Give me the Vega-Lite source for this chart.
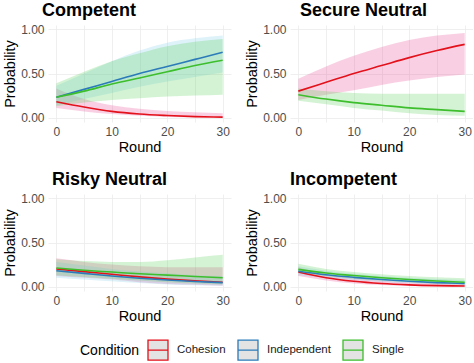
{
  "$schema": "https://vega.github.io/schema/vega-lite/v6.json",
  "padding": {"left": 2, "top": 2, "right": 0, "bottom": 0},
  "config": {
    "font": "Liberation Sans",
    "view": {"stroke": null},
    "axis": {
      "domain": false, "ticks": false,
      "gridColor": "#EBEBEB", "gridWidth": 0.8,
      "labelColor": "#4D4D4D", "labelFontSize": 12, "labelPadding": 4,
      "labelFlush": false, "labelOverlap": false,
      "titleFontSize": 14.5, "titleFontWeight": "normal", "titleColor": "#000000", "titlePadding": 3
    },
    "title": {"fontSize": 18, "fontWeight": "bold", "color": "#000000", "anchor": "start", "frame": "group", "baseline": "alphabetic", "offset": 3}
  },
  "data": {"values": [
    {"panel": "Competent", "cond": "Cohesion", "round": 0, "p": 0.18, "lo": 0.11, "hi": 0.33},
    {"panel": "Competent", "cond": "Cohesion", "round": 5, "p": 0.12, "lo": 0.07, "hi": 0.21},
    {"panel": "Competent", "cond": "Cohesion", "round": 10, "p": 0.07, "lo": 0.04, "hi": 0.14},
    {"panel": "Competent", "cond": "Cohesion", "round": 15, "p": 0.04, "lo": 0.02, "hi": 0.10},
    {"panel": "Competent", "cond": "Cohesion", "round": 20, "p": 0.023, "lo": 0.008, "hi": 0.075},
    {"panel": "Competent", "cond": "Cohesion", "round": 25, "p": 0.011, "lo": 0.003, "hi": 0.06},
    {"panel": "Competent", "cond": "Cohesion", "round": 30, "p": 0.005, "lo": 0.001, "hi": 0.05},
    {"panel": "Competent", "cond": "Independent", "round": 0, "p": 0.23, "lo": 0.14, "hi": 0.36},
    {"panel": "Competent", "cond": "Independent", "round": 5, "p": 0.32, "lo": 0.21, "hi": 0.50},
    {"panel": "Competent", "cond": "Independent", "round": 10, "p": 0.41, "lo": 0.28, "hi": 0.64},
    {"panel": "Competent", "cond": "Independent", "round": 15, "p": 0.50, "lo": 0.35, "hi": 0.76},
    {"panel": "Competent", "cond": "Independent", "round": 20, "p": 0.58, "lo": 0.41, "hi": 0.85},
    {"panel": "Competent", "cond": "Independent", "round": 25, "p": 0.66, "lo": 0.46, "hi": 0.90},
    {"panel": "Competent", "cond": "Independent", "round": 30, "p": 0.74, "lo": 0.51, "hi": 0.93},
    {"panel": "Competent", "cond": "Single", "round": 0, "p": 0.23, "lo": 0.13, "hi": 0.39},
    {"panel": "Competent", "cond": "Single", "round": 5, "p": 0.30, "lo": 0.17, "hi": 0.52},
    {"panel": "Competent", "cond": "Single", "round": 10, "p": 0.38, "lo": 0.20, "hi": 0.64},
    {"panel": "Competent", "cond": "Single", "round": 15, "p": 0.45, "lo": 0.22, "hi": 0.73},
    {"panel": "Competent", "cond": "Single", "round": 20, "p": 0.52, "lo": 0.24, "hi": 0.81},
    {"panel": "Competent", "cond": "Single", "round": 25, "p": 0.59, "lo": 0.25, "hi": 0.86},
    {"panel": "Competent", "cond": "Single", "round": 30, "p": 0.65, "lo": 0.26, "hi": 0.89},

    {"panel": "Secure Neutral", "cond": "Cohesion", "round": 0, "p": 0.30, "lo": 0.20, "hi": 0.44},
    {"panel": "Secure Neutral", "cond": "Cohesion", "round": 5, "p": 0.40, "lo": 0.26, "hi": 0.58},
    {"panel": "Secure Neutral", "cond": "Cohesion", "round": 10, "p": 0.50, "lo": 0.31, "hi": 0.70},
    {"panel": "Secure Neutral", "cond": "Cohesion", "round": 15, "p": 0.59, "lo": 0.37, "hi": 0.80},
    {"panel": "Secure Neutral", "cond": "Cohesion", "round": 20, "p": 0.68, "lo": 0.42, "hi": 0.88},
    {"panel": "Secure Neutral", "cond": "Cohesion", "round": 25, "p": 0.76, "lo": 0.46, "hi": 0.93},
    {"panel": "Secure Neutral", "cond": "Cohesion", "round": 30, "p": 0.83, "lo": 0.49, "hi": 0.96},
    {"panel": "Secure Neutral", "cond": "Single", "round": 0, "p": 0.26, "lo": 0.19, "hi": 0.33},
    {"panel": "Secure Neutral", "cond": "Single", "round": 5, "p": 0.21, "lo": 0.15, "hi": 0.30},
    {"panel": "Secure Neutral", "cond": "Single", "round": 10, "p": 0.17, "lo": 0.11, "hi": 0.28},
    {"panel": "Secure Neutral", "cond": "Single", "round": 15, "p": 0.14, "lo": 0.08, "hi": 0.27},
    {"panel": "Secure Neutral", "cond": "Single", "round": 20, "p": 0.11, "lo": 0.05, "hi": 0.27},
    {"panel": "Secure Neutral", "cond": "Single", "round": 25, "p": 0.09, "lo": 0.03, "hi": 0.27},
    {"panel": "Secure Neutral", "cond": "Single", "round": 30, "p": 0.07, "lo": 0.02, "hi": 0.27},

    {"panel": "Risky Neutral", "cond": "Cohesion", "round": 0, "p": 0.20, "lo": 0.12, "hi": 0.32},
    {"panel": "Risky Neutral", "cond": "Cohesion", "round": 5, "p": 0.17, "lo": 0.10, "hi": 0.28},
    {"panel": "Risky Neutral", "cond": "Cohesion", "round": 10, "p": 0.14, "lo": 0.08, "hi": 0.25},
    {"panel": "Risky Neutral", "cond": "Cohesion", "round": 15, "p": 0.11, "lo": 0.05, "hi": 0.23},
    {"panel": "Risky Neutral", "cond": "Cohesion", "round": 20, "p": 0.085, "lo": 0.03, "hi": 0.22},
    {"panel": "Risky Neutral", "cond": "Cohesion", "round": 25, "p": 0.065, "lo": 0.02, "hi": 0.22},
    {"panel": "Risky Neutral", "cond": "Cohesion", "round": 30, "p": 0.05, "lo": 0.01, "hi": 0.22},
    {"panel": "Risky Neutral", "cond": "Independent", "round": 0, "p": 0.18, "lo": 0.10, "hi": 0.28},
    {"panel": "Risky Neutral", "cond": "Independent", "round": 5, "p": 0.15, "lo": 0.08, "hi": 0.24},
    {"panel": "Risky Neutral", "cond": "Independent", "round": 10, "p": 0.12, "lo": 0.06, "hi": 0.20},
    {"panel": "Risky Neutral", "cond": "Independent", "round": 15, "p": 0.095, "lo": 0.04, "hi": 0.17},
    {"panel": "Risky Neutral", "cond": "Independent", "round": 20, "p": 0.075, "lo": 0.025, "hi": 0.15},
    {"panel": "Risky Neutral", "cond": "Independent", "round": 25, "p": 0.058, "lo": 0.015, "hi": 0.13},
    {"panel": "Risky Neutral", "cond": "Independent", "round": 30, "p": 0.045, "lo": 0.01, "hi": 0.12},
    {"panel": "Risky Neutral", "cond": "Single", "round": 0, "p": 0.21, "lo": 0.13, "hi": 0.31},
    {"panel": "Risky Neutral", "cond": "Single", "round": 5, "p": 0.185, "lo": 0.11, "hi": 0.29},
    {"panel": "Risky Neutral", "cond": "Single", "round": 10, "p": 0.165, "lo": 0.09, "hi": 0.28},
    {"panel": "Risky Neutral", "cond": "Single", "round": 15, "p": 0.145, "lo": 0.07, "hi": 0.28},
    {"panel": "Risky Neutral", "cond": "Single", "round": 20, "p": 0.13, "lo": 0.05, "hi": 0.30},
    {"panel": "Risky Neutral", "cond": "Single", "round": 25, "p": 0.115, "lo": 0.035, "hi": 0.33},
    {"panel": "Risky Neutral", "cond": "Single", "round": 30, "p": 0.10, "lo": 0.025, "hi": 0.36},

    {"panel": "Incompetent", "cond": "Cohesion", "round": 0, "p": 0.165, "lo": 0.12, "hi": 0.22},
    {"panel": "Incompetent", "cond": "Cohesion", "round": 5, "p": 0.10, "lo": 0.07, "hi": 0.14},
    {"panel": "Incompetent", "cond": "Cohesion", "round": 10, "p": 0.06, "lo": 0.035, "hi": 0.10},
    {"panel": "Incompetent", "cond": "Cohesion", "round": 15, "p": 0.035, "lo": 0.018, "hi": 0.07},
    {"panel": "Incompetent", "cond": "Cohesion", "round": 20, "p": 0.02, "lo": 0.008, "hi": 0.05},
    {"panel": "Incompetent", "cond": "Cohesion", "round": 25, "p": 0.011, "lo": 0.003, "hi": 0.04},
    {"panel": "Incompetent", "cond": "Cohesion", "round": 30, "p": 0.006, "lo": 0.001, "hi": 0.03},
    {"panel": "Incompetent", "cond": "Independent", "round": 0, "p": 0.175, "lo": 0.13, "hi": 0.23},
    {"panel": "Incompetent", "cond": "Independent", "round": 5, "p": 0.135, "lo": 0.10, "hi": 0.18},
    {"panel": "Incompetent", "cond": "Independent", "round": 10, "p": 0.105, "lo": 0.075, "hi": 0.145},
    {"panel": "Incompetent", "cond": "Independent", "round": 15, "p": 0.08, "lo": 0.055, "hi": 0.12},
    {"panel": "Incompetent", "cond": "Independent", "round": 20, "p": 0.06, "lo": 0.04, "hi": 0.10},
    {"panel": "Incompetent", "cond": "Independent", "round": 25, "p": 0.045, "lo": 0.025, "hi": 0.085},
    {"panel": "Incompetent", "cond": "Independent", "round": 30, "p": 0.035, "lo": 0.015, "hi": 0.075},
    {"panel": "Incompetent", "cond": "Single", "round": 0, "p": 0.195, "lo": 0.15, "hi": 0.26},
    {"panel": "Incompetent", "cond": "Single", "round": 5, "p": 0.155, "lo": 0.12, "hi": 0.20},
    {"panel": "Incompetent", "cond": "Single", "round": 10, "p": 0.125, "lo": 0.09, "hi": 0.165},
    {"panel": "Incompetent", "cond": "Single", "round": 15, "p": 0.10, "lo": 0.07, "hi": 0.14},
    {"panel": "Incompetent", "cond": "Single", "round": 20, "p": 0.08, "lo": 0.05, "hi": 0.12},
    {"panel": "Incompetent", "cond": "Single", "round": 25, "p": 0.063, "lo": 0.035, "hi": 0.105},
    {"panel": "Incompetent", "cond": "Single", "round": 30, "p": 0.05, "lo": 0.025, "hi": 0.095}
  ]},
  "columns": 2,
  "spacing": {"row": 72, "column": 59},
  "bounds": "flush",
  "resolve": {"scale": {"stroke": "shared", "fill": "shared"}},
  "concat": [
    {
      "title": {"text": "Competent", "dx": -6},
      "width": 183, "height": 97,
      "transform": [{"filter": "datum.panel === 'Competent'"}],
      "encoding": {
        "x": {"field": "round", "type": "quantitative", "title": "Round",
              "scale": {"domain": [-1.5, 31.5], "nice": false, "zero": false},
              "axis": {"values": [0, 5, 10, 15, 20, 25, 30], "labelExpr": "datum.value % 10 === 0 ? datum.label : ''"}}
      },
      "layer": [
        {"mark": {"type": "area", "opacity": 0.26, "interpolate": "monotone"},
         "encoding": {
           "y": {"field": "lo", "type": "quantitative", "title": "Probability",
                 "scale": {"domain": [-0.05, 1.05], "nice": false, "zero": false},
                 "axis": {"values": [0, 0.125, 0.25, 0.375, 0.5, 0.625, 0.75, 0.875, 1], "labelExpr": "(datum.value * 4) % 1 === 0 ? format(datum.value, '.2f') : ''"}},
           "y2": {"field": "hi"},
           "fill": {"field": "cond", "type": "nominal", "legend": null,
                    "scale": {"domain": ["Single", "Independent", "Cohesion"], "range": ["#57CF57", "#7ACDE8", "#E84891"]}}
         }},
        {"mark": {"type": "line", "strokeWidth": 1.6, "interpolate": "monotone"},
         "encoding": {
           "y": {"field": "p", "type": "quantitative", "title": "Probability"},
           "stroke": {"field": "cond", "type": "nominal",
                      "scale": {"domain": ["Cohesion", "Independent", "Single"], "range": ["#E3111B", "#2B7BBA", "#3DBE2C"]},
                      "legend": {"title": "Condition", "orient": "none", "legendX": 32, "legendY": 314, "direction": "horizontal",
                                 "titleOrient": "left", "titleFontSize": 14, "titleFontWeight": "normal", "titleColor": "#000000",
                                 "titlePadding": 7, "titleAnchor": "middle", "titleBaseline": "middle",
                                 "labelFontSize": 11.5, "labelColor": "#1A1A1A", "labelOffset": 8, "columnPadding": 9,
                                 "symbolType": "M-1,-1H1V1H-1Z M-1,0H1", "symbolSize": 400, "symbolStrokeWidth": 1.3,
                                 "symbolFillColor": "#E3E3E3", "symbolOpacity": 1,
                                 "encode": {"symbols": {"update": {"fill": {"value": "#E3E3E3"}, "fillOpacity": {"value": 1}, "opacity": {"value": 1}}}}}}
         }}
      ]
    },
    {
      "title": {"text": "Secure Neutral", "dx": 10},
      "width": 183, "height": 97,
      "transform": [{"filter": "datum.panel === 'Secure Neutral'"}],
      "encoding": {
        "x": {"field": "round", "type": "quantitative", "title": "Round",
              "scale": {"domain": [-1.5, 31.5], "nice": false, "zero": false},
              "axis": {"values": [0, 5, 10, 15, 20, 25, 30], "labelExpr": "datum.value % 10 === 0 ? datum.label : ''"}}
      },
      "layer": [
        {"mark": {"type": "area", "opacity": 0.26, "interpolate": "monotone"},
         "encoding": {
           "y": {"field": "lo", "type": "quantitative", "title": "Probability",
                 "scale": {"domain": [-0.05, 1.05], "nice": false, "zero": false},
                 "axis": {"values": [0, 0.125, 0.25, 0.375, 0.5, 0.625, 0.75, 0.875, 1], "labelExpr": "(datum.value * 4) % 1 === 0 ? format(datum.value, '.2f') : ''"}},
           "y2": {"field": "hi"},
           "fill": {"field": "cond", "type": "nominal", "legend": null}
         }},
        {"mark": {"type": "line", "strokeWidth": 1.6, "interpolate": "monotone"},
         "encoding": {
           "y": {"field": "p", "type": "quantitative", "title": "Probability"},
           "stroke": {"field": "cond", "type": "nominal"}
         }}
      ]
    },
    {
      "title": {"text": "Risky Neutral", "dx": 4},
      "width": 183, "height": 97,
      "transform": [{"filter": "datum.panel === 'Risky Neutral'"}],
      "encoding": {
        "x": {"field": "round", "type": "quantitative", "title": "Round",
              "scale": {"domain": [-1.5, 31.5], "nice": false, "zero": false},
              "axis": {"values": [0, 5, 10, 15, 20, 25, 30], "labelExpr": "datum.value % 10 === 0 ? datum.label : ''"}}
      },
      "layer": [
        {"mark": {"type": "area", "opacity": 0.26, "interpolate": "monotone"},
         "encoding": {
           "y": {"field": "lo", "type": "quantitative", "title": "Probability",
                 "scale": {"domain": [-0.05, 1.05], "nice": false, "zero": false},
                 "axis": {"values": [0, 0.125, 0.25, 0.375, 0.5, 0.625, 0.75, 0.875, 1], "labelExpr": "(datum.value * 4) % 1 === 0 ? format(datum.value, '.2f') : ''"}},
           "y2": {"field": "hi"},
           "fill": {"field": "cond", "type": "nominal", "legend": null}
         }},
        {"mark": {"type": "line", "strokeWidth": 1.6, "interpolate": "monotone"},
         "encoding": {
           "y": {"field": "p", "type": "quantitative", "title": "Probability"},
           "stroke": {"field": "cond", "type": "nominal"}
         }}
      ]
    },
    {
      "title": {"text": "Incompetent", "dx": 0},
      "width": 183, "height": 97,
      "transform": [{"filter": "datum.panel === 'Incompetent'"}],
      "encoding": {
        "x": {"field": "round", "type": "quantitative", "title": "Round",
              "scale": {"domain": [-1.5, 31.5], "nice": false, "zero": false},
              "axis": {"values": [0, 5, 10, 15, 20, 25, 30], "labelExpr": "datum.value % 10 === 0 ? datum.label : ''"}}
      },
      "layer": [
        {"mark": {"type": "area", "opacity": 0.26, "interpolate": "monotone"},
         "encoding": {
           "y": {"field": "lo", "type": "quantitative", "title": "Probability",
                 "scale": {"domain": [-0.05, 1.05], "nice": false, "zero": false},
                 "axis": {"values": [0, 0.125, 0.25, 0.375, 0.5, 0.625, 0.75, 0.875, 1], "labelExpr": "(datum.value * 4) % 1 === 0 ? format(datum.value, '.2f') : ''"}},
           "y2": {"field": "hi"},
           "fill": {"field": "cond", "type": "nominal", "legend": null}
         }},
        {"mark": {"type": "line", "strokeWidth": 1.6, "interpolate": "monotone"},
         "encoding": {
           "y": {"field": "p", "type": "quantitative", "title": "Probability"},
           "stroke": {"field": "cond", "type": "nominal"}
         }}
      ]
    }
  ]
}
